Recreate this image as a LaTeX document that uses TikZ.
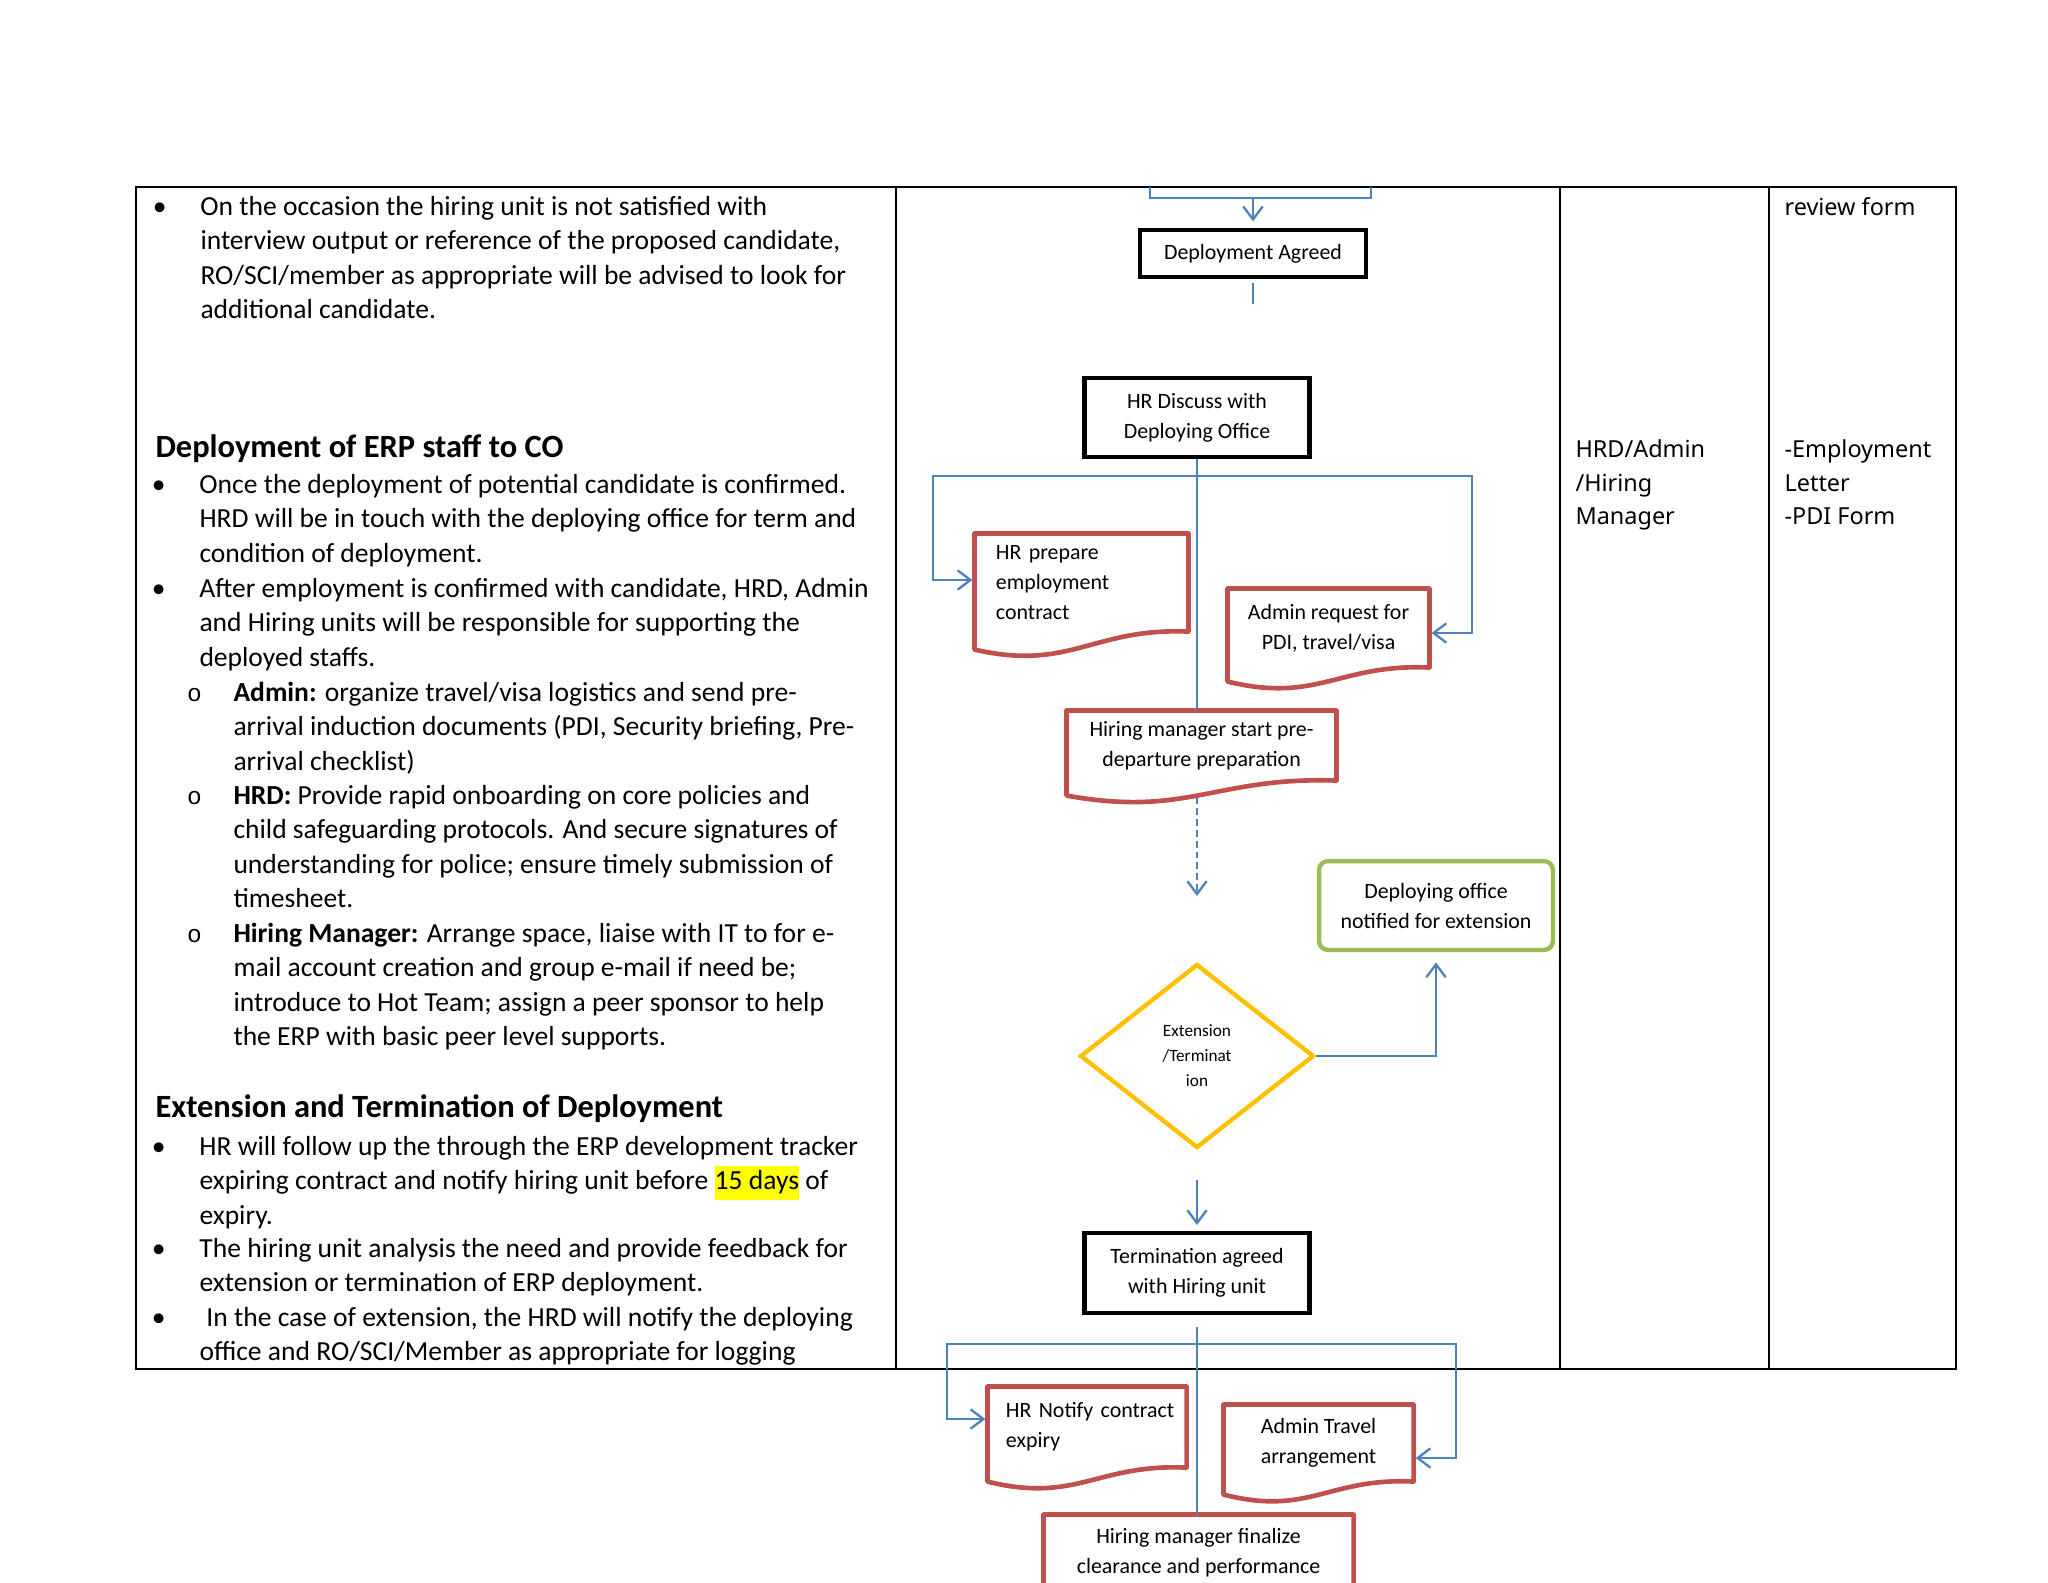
\documentclass[tikz,border=0pt]{standalone}
\usepackage{fontspec}
\setmainfont{Carlito}
\newfontfamily\notosans{Noto Sans}
\newfontfamily\subfont{Liberation Mono}
\usepackage{xcolor}
\usetikzlibrary{arrows.meta, shapes.geometric, calc}

\definecolor{linkblue}{RGB}{79,129,189}
\definecolor{docred}{RGB}{192,80,77}
\definecolor{notegreen}{RGB}{155,187,89}
\definecolor{decyellow}{RGB}{255,192,0}
\definecolor{hilite}{RGB}{255,255,0}

\newcommand{\bodyfont}{\fontsize{10.7}{13.3}\selectfont}
\newcommand{\headfont}{\bfseries\fontsize{12.6}{15}\selectfont}
\newcommand{\flowfont}{\fontsize{8.5}{11.65}\selectfont}
\newcommand{\smallflow}{\fontsize{6.7}{9.7}\selectfont}
\newcommand{\sidefont}{\notosans\fontsize{9.1}{13}\selectfont}
\newcommand{\bul}{\llap{\textbullet\hskip13.2pt}}
\newcommand{\subbul}{\llap{{\subfont\fontsize{9.5}{9.5}\selectfont o}\hskip12.3pt}}
% red document outline with a wavy bottom
\newcommand{\docwave}[2]{%
  \draw[docline] (#1.south east) -- (#1.north east) -- (#1.north west)
    -- ($(#1.south west)+(0,#2)$)
    .. controls ($(#1.south west)!0.45!(#1.south east)+(0,#2+22)$)
    and ($(#1.south east)!0.45!(#1.south west)+(0,-4)$) .. (#1.south east) -- cycle;}

\begin{document}
\begin{tikzpicture}[
    x=0.3882pt, y=-0.3882pt,
    rule/.style={draw=black,line width=0.9pt},
    bodytext/.style={anchor=north west,align=left,inner sep=0pt,font=\bodyfont},
    headtext/.style={anchor=base west,inner sep=0pt,font=\headfont},
    sidetext/.style={anchor=north west,align=left,inner sep=0pt,font=\sidefont},
    blackbox/.style={draw,line width=1.8pt,align=center,inner sep=0pt,font=\flowfont},
    docnode/.style={align=center,inner sep=0pt,font=\flowfont},
    docline/.style={draw=docred,line width=1.8pt,line join=round},
    notebox/.style={draw=notegreen,line width=1.7pt,rounded corners=3.5pt,align=center,inner sep=0pt,font=\flowfont},
    decision/.style={diamond,draw=decyellow,line width=1.7pt,align=center,inner sep=0pt,font=\smallflow},
    link/.style={draw=linkblue,line width=0.9pt},
    arrow/.style={link,-{Straight Barb[length=5pt,width=7.5pt]},shorten >=0.8pt}
]
\useasboundingbox (0,0) rectangle (2048,1582);
\clip (0,0) rectangle (2048,1582);

% table
\draw[rule] (136,187) rectangle (1956,1369);
\draw[rule] (896,187) -- (896,1369);
\draw[rule] (1560,187) -- (1560,1369);
\draw[rule] (1769,187) -- (1769,1369);

% first column
\node[bodytext] (note1) at (200,191) {\bul\strut On the occasion the hiring unit is not satisfied with\\interview output or reference of the proposed candidate,\\RO/SCI/member as appropriate will be advised to look for\\additional candidate.};
\node[headtext] (headdeploy) at (155,457) {Deployment of ERP staff to CO};
\node[bodytext] (item1) at (199,469) {\bul\strut Once the deployment of potential candidate is confirmed.\\HRD will be in touch with the deploying office for term and\\condition of deployment.};
\node[bodytext] (item2) at (199,573) {\bul\strut After employment is confirmed with candidate, HRD, Admin\\and Hiring units will be responsible for supporting the\\deployed staffs.};
\node[bodytext] (subadmin) at (233,677) {\subbul\strut\textbf{Admin:} organize travel/visa logistics and send pre-\\arrival induction documents (PDI, Security briefing, Pre-\\arrival checklist)};
\node[bodytext] (subhrd) at (233,780) {\subbul\strut\textbf{HRD:} Provide rapid onboarding on core policies and\\child safeguarding protocols. And secure signatures of\\understanding for police; ensure timely submission of\\timesheet.};
\node[bodytext] (subhm) at (233,918) {\subbul\strut\textbf{Hiring Manager:} Arrange space, liaise with IT to for e-\\mail account creation and group e-mail if need be;\\introduce to Hot Team; assign a peer sponsor to help\\the ERP with basic peer level supports.};
\node[headtext] (headext) at (155,1117) {Extension and Termination of Deployment};
\node[bodytext] (item3) at (199,1131) {\bul\strut HR will follow up the through the ERP development tracker\\expiring contract and notify hiring unit before {\fboxsep=0pt\colorbox{hilite}{\strut 15 days}} of\\expiry.};
\node[bodytext] (item4) at (199,1233) {\bul\strut The hiring unit analysis the need and provide feedback for\\extension or termination of ERP deployment.};
\node[bodytext] (item5) at (199,1302) {\bul\strut\hskip2.7pt In the case of extension, the HRD will notify the deploying\\office and RO/SCI/Member as appropriate for logging};

% right columns
\node[anchor=base west,inner sep=0pt,font=\sidefont] (reviewform) at (1784,215) {review form};
\node[sidetext] (roles) at (1575,433.6) {\strut HRD/Admin\\/Hiring\\Manager};
\node[sidetext] (docs) at (1784,433.6) {\strut -Employment\\Letter\\-PDI Form};

% flowchart nodes
\node[blackbox,minimum width=87.7pt,minimum height=18.2pt] (agreed) at (1253,253.5) {Deployment Agreed};
\node[blackbox,minimum width=87.3pt,minimum height=30.7pt] (discuss) at (1197,417.5) {HR Discuss with\\Deploying Office};
\node[docnode,align=left,text width=66.4pt,inner xsep=8.15pt,minimum height=37.7pt] (hrprep) at (1081.5,582.5) {HR prepare\\employment\\contract};
\node[docnode,minimum width=78pt,minimum height=30.3pt] (adminreq) at (1328.5,628) {Admin request for\\PDI, travel/visa};
\node[docnode,minimum width=104.4pt,minimum height=26.8pt] (hmstart) at (1201.5,745.5) {Hiring manager start pre-\\departure preparation};
\node[notebox,minimum width=90.8pt,minimum height=34.5pt] (deploynotif) at (1436,905.5) {Deploying office\\notified for extension};
\node[decision,minimum width=90.8pt,minimum height=71.4pt] (decide) at (1197,1056) {Extension\\/Terminat\\ion};
\node[blackbox,minimum width=87.3pt,minimum height=31.1pt] (termagreed) at (1197,1273) {Termination agreed\\with Hiring unit};
\node[docnode,align=left,text width=62.9pt,inner xsep=7pt,minimum height=31.1pt] (hrnotify) at (1087,1427) {\mbox{HR Notify contract}\\expiry};
\node[docnode,minimum width=73.4pt,minimum height=29.5pt] (admintravel) at (1318.5,1443) {Admin Travel\\arrangement};
\node[docnode,minimum width=120pt,minimum height=29.1pt] (hmfinal) at (1198.5,1552.5) {Hiring manager finalize\\clearance and performance};

\docwave{hrprep}{18}
\docwave{adminreq}{14}
\docwave{hmstart}{15}
\docwave{hrnotify}{14}
\docwave{admintravel}{13}
\docwave{hmfinal}{15}

% connectors
\coordinate (inL) at (1150,187);
\coordinate (inR) at (1371,187);
\coordinate (inmid) at (1253,198);
\draw[link] (inL) -- ++(0,11) -| (inR);
\draw[arrow,shorten >=2.5pt] (inmid) -- (agreed.north);
\coordinate (agreedout) at (1253,304);
\draw[link] ([yshift=-1.5pt]agreed.south) -- (agreedout);

\draw[link] (discuss.south) -- (discuss.south |- hmstart.north);
\coordinate (split1) at (1197,476);
\coordinate (bendL1) at (933,580);
\coordinate (bendR1) at (1472,633);
\draw[arrow] (split1) -| (bendL1) -- (bendL1 -| hrprep.west);
\draw[arrow] (split1) -| (bendR1) -- (bendR1 -| adminreq.east);

\coordinate (dashend) at (1197,898);
\draw[arrow,dash pattern=on 2.6pt off 1.6pt] ($(hmstart.south -| dashend)+(0,17)$) -- (dashend);
\draw[arrow,shorten >=4pt] (decide.east) -| (deploynotif.south);

\coordinate (decideout) at (1197,1180);
\draw[arrow,shorten >=2.2pt] (decideout) -- (termagreed.north);
\draw[link] ($(termagreed.south)+(0,12)$) -- (termagreed.south |- hmfinal.north);
\coordinate (split2) at (1197,1344);
\coordinate (bendL2) at (947,1419);
\coordinate (bendR2) at (1456,1458);
\draw[arrow] (split2) -| (bendL2) -- (bendL2 -| hrnotify.west);
\draw[arrow] (split2) -| (bendR2) -- (bendR2 -| admintravel.east);
\end{tikzpicture}
\end{document}
